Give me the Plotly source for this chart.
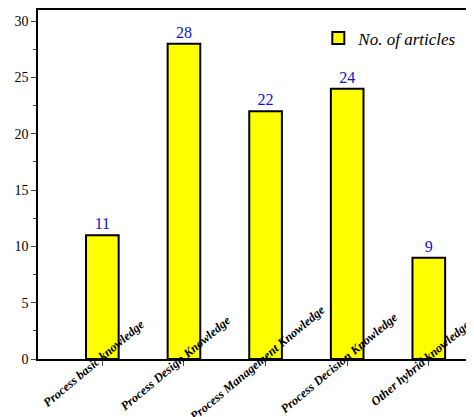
import plotly.graph_objects as go

categories = ['Process basic knowledge', 'Process Design Knowledge',
              'Process Management Knowledge', 'Process Decision Knowledge',
              'Other hybrid knowledge']
articles = [11, 28, 22, 24, 9]

FONT = 'Times New Roman, Liberation Serif, serif'

fig = go.Figure()
fig.add_trace(go.Bar(
    x=categories,
    y=articles,
    name='<i>No. of articles</i>',
    width=0.4,
    text=[str(v) for v in articles],
    textposition='outside',
    textfont={'family': FONT, 'size': 16, 'color': '#1010d0'},
    cliponaxis=False,
    marker={'color': '#ffff00', 'line': {'color': 'black', 'width': 2}},
))

# rotated category labels overlapping the baseline like the original
for c in categories:
    fig.add_annotation(
        x=c, y=0, yref='y', xshift=-8, yshift=-4,
        text='<b><i>' + c + '</i></b>', showarrow=False, textangle=-40,
        font={'family': FONT, 'size': 12.5, 'color': 'black'},
        xanchor='center', yanchor='middle',
    )

fig.update_layout(
    width=474, height=417,
    margin={'l': 30, 'r': 6, 't': 2, 'b': 66, 'autoexpand': False},
    plot_bgcolor='white', paper_bgcolor='white',
    font={'family': FONT, 'size': 14, 'color': 'black'},
    bargap=0.6,
    showlegend=True,
    legend={'x': 0.64, 'y': 0.97, 'xanchor': 'left', 'yanchor': 'top',
            'font': {'family': FONT, 'size': 17},
            'bgcolor': 'rgba(0,0,0,0)'},
    xaxis={'showticklabels': False, 'showline': True, 'linecolor': 'black',
           'linewidth': 1.5, 'mirror': True, 'ticks': 'outside',
           'ticklen': 5, 'showgrid': False},
    yaxis={'range': [0, 31], 'dtick': 5, 'showline': True,
           'linecolor': 'black', 'linewidth': 1.5, 'mirror': True,
           'ticks': 'outside', 'ticklen': 5, 'showgrid': False,
           'zeroline': False, 'tickfont': {'size': 14},
           'minor': {'dtick': 2.5, 'ticks': 'outside', 'ticklen': 3}},
)

fig.write_html('out.html')
